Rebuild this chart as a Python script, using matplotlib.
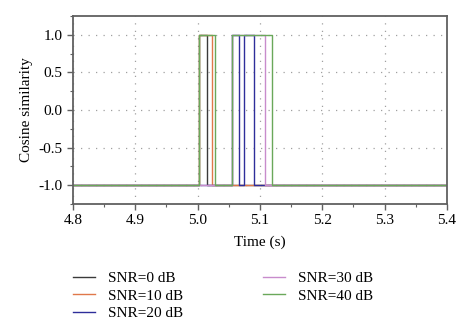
import numpy as np
import matplotlib
matplotlib.use('Agg')
import matplotlib.pyplot as plt
from matplotlib.ticker import MultipleLocator

plt.rcParams['font.family'] = 'Liberation Serif'
plt.rcParams['axes.unicode_minus'] = False

# Detection windows (start, end) in seconds where the similarity jumps to +1
labels = ['SNR=0 dB', 'SNR=10 dB', 'SNR=20 dB', 'SNR=30 dB', 'SNR=40 dB']
colors = ['#3a3a3a', '#e0784a', '#2e2e9a', '#c88ccc', '#6aa85a']
windows = [
    [(5.002, 5.0145)],
    [(5.002, 5.0235)],
    [(5.0556, 5.066), (5.075, 5.0905)],
    [(5.0556, 5.108)],
    [(5.002, 5.028), (5.0556, 5.119)],
]
low, high = -1.0, 1.0
t_start, t_end = 4.8, 5.4


def step_signal(wins):
    t = [t_start]
    y = [low]
    for a, b in wins:
        t += [a, a, b, b]
        y += [low, high, high, low]
    t.append(t_end)
    y.append(low)
    return np.array(t), np.array(y)


fig = plt.figure(figsize=(4.74, 3.36), dpi=100)
ax = fig.add_axes([0.154, 0.393, 0.789, 0.559])

for lab, col, w in zip(labels, colors, windows):
    t, y = step_signal(w)
    ax.plot(t, y, color=col, lw=1.0, label=lab)

ax.set_xlim(t_start, t_end)
ax.set_ylim(-1.25, 1.25)
ax.xaxis.set_major_locator(MultipleLocator(0.1))
ax.xaxis.set_minor_locator(MultipleLocator(0.05))
ax.yaxis.set_major_locator(MultipleLocator(0.5))
ax.yaxis.set_minor_locator(MultipleLocator(0.25))
ax.xaxis.set_major_formatter(matplotlib.ticker.FormatStrFormatter('%.1f'))
ax.yaxis.set_major_formatter(matplotlib.ticker.FormatStrFormatter('%.1f'))

ax.grid(True, which='major', color='#a0a0a0', linestyle=(0, (1, 5)), lw=0.9)
for s in ax.spines.values():
    s.set_color('#606060')
    s.set_linewidth(1.3)
ax.tick_params(which='major', direction='out', length=4, width=1.0,
               color='#606060', labelsize=11, top=False, right=False)
ax.tick_params(which='minor', direction='out', length=2, width=0.8,
               color='#606060', top=False, right=False)

ax.set_xlabel('Time (s)', fontsize=11, labelpad=6)
ax.set_ylabel('Cosine similarity', fontsize=11, labelpad=4)

ax.legend(loc='upper left', bbox_to_anchor=(-0.037, -0.287), ncol=2,
          frameon=False, fontsize=11, handlelength=1.45, handletextpad=0.85,
          columnspacing=5.2, labelspacing=0.25)

fig.savefig('out.png', dpi=100)
